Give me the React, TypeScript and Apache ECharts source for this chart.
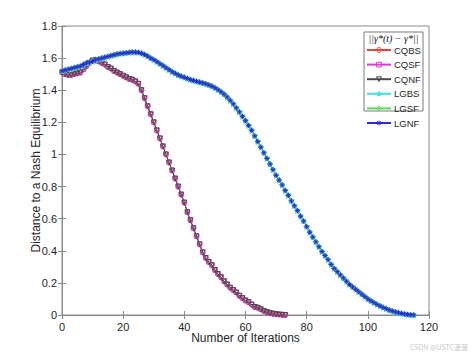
import React, { useEffect, useRef } from "react";
import * as echarts from "echarts";

const seriesNames = ["CQBS", "CQSF", "CQNF", "LGBS", "LGSF", "LGNF"];
const seriesColors = ["#e8413f", "#d63fd6", "#4a4a4a", "#3fe0e0", "#5fd65f", "#2a2ad8"];

// CQ family (iterations 0..73)
const cqValues = [
  1.51, 1.5, 1.495, 1.495, 1.5, 1.505, 1.51, 1.53, 1.55, 1.57,
  1.585, 1.585, 1.58, 1.57, 1.56, 1.545, 1.535, 1.52, 1.51, 1.5,
  1.49, 1.48, 1.47, 1.465, 1.455, 1.44, 1.4, 1.35, 1.3, 1.25,
  1.2, 1.15, 1.1, 1.05, 1.0, 0.95, 0.9, 0.85, 0.8, 0.75,
  0.7, 0.64, 0.59, 0.54, 0.49, 0.44, 0.39, 0.355, 0.33, 0.31,
  0.28, 0.255, 0.235, 0.21, 0.19, 0.17, 0.155, 0.14, 0.12, 0.105,
  0.09, 0.08, 0.065, 0.05, 0.045, 0.035, 0.025, 0.018, 0.012, 0.008,
  0.005, 0.003, 0.001, 0.0,
];

// LG family (iterations 0..115)
const lgValues = [
  1.52, 1.525, 1.53, 1.535, 1.54, 1.545, 1.55, 1.56, 1.57, 1.575,
  1.58, 1.59, 1.595, 1.6, 1.605, 1.61, 1.615, 1.62, 1.625, 1.628,
  1.63, 1.633, 1.635, 1.637, 1.637, 1.635, 1.63, 1.622, 1.612, 1.6,
  1.59, 1.578, 1.565, 1.553, 1.54, 1.528, 1.515, 1.505, 1.495, 1.487,
  1.48, 1.473, 1.466, 1.46, 1.455, 1.45, 1.445, 1.44, 1.433, 1.425,
  1.415, 1.403, 1.39, 1.375, 1.357, 1.337, 1.315, 1.29, 1.265, 1.237,
  1.21, 1.18, 1.15, 1.115, 1.08, 1.045, 1.01, 0.975, 0.94, 0.905,
  0.87, 0.84, 0.81, 0.775, 0.745, 0.71, 0.68, 0.65, 0.615, 0.585,
  0.55, 0.515, 0.485, 0.455, 0.425, 0.395, 0.37, 0.345, 0.315, 0.29,
  0.27, 0.25, 0.23, 0.21, 0.19, 0.175, 0.16, 0.145, 0.13, 0.115,
  0.1, 0.088, 0.077, 0.066, 0.056, 0.047, 0.039, 0.031, 0.025, 0.019,
  0.014, 0.01, 0.006, 0.003, 0.001, 0.0,
];

const xTicks = [0, 20, 40, 60, 80, 100, 120];
const yTicks = [0, 0.2, 0.4, 0.6, 0.8, 1, 1.2, 1.4, 1.6, 1.8];

const STAR = "path://M50,0 L61,35 L98,35 L68,57 L79,91 L50,70 L21,91 L32,57 L2,35 L39,35 Z";
const ASTERISK = "path://M0,5 L10,5 M5,0 L5,10 M1.5,1.5 L8.5,8.5 M8.5,1.5 L1.5,8.5";

const symbols = ["circle", "rect", "triangle", STAR, "diamond", ASTERISK];
const symbolRot = [0, 0, 180, 0, 0, 0];
const symbolSizes = [5, 4, 5, 6, 5, 5];

export default function App() {
  const ref = useRef<HTMLDivElement>(null);
  useEffect(() => {
    if (!ref.current) return;
    const chart = echarts.init(ref.current, undefined, { renderer: "svg" });
    const axisColor = "#8a8a8a";
    const labelColor = "#262626";
    const font = "Liberation Sans";
    const hollow = (c: string) => ({ color: "rgba(0,0,0,0)", borderColor: c, borderWidth: 1 });
    const series = seriesNames.map((name, k) => {
      const vals = k < 3 ? cqValues : lgValues;
      return {
        name,
        type: "line",
        xAxisIndex: 0,
        yAxisIndex: 0,
        data: vals.map((v, i) => [i, v]),
        symbol: symbols[k],
        symbolSize: symbolSizes[k],
        symbolRotate: symbolRot[k],
        showAllSymbol: true,
        lineStyle: { color: seriesColors[k], width: 1 },
        itemStyle: hollow(seriesColors[k]),
        emphasis: { disabled: true },
      };
    });
    chart.setOption({
      animation: false,
      grid: { left: 62, right: 45, top: 26, bottom: 40, show: true, borderColor: axisColor, borderWidth: 1 },
      xAxis: [
        {
          type: "value",
          min: xTicks[0],
          max: xTicks[xTicks.length - 1],
          interval: 20,
          name: "Number of Iterations",
          nameLocation: "middle",
          nameGap: 17,
          nameMoveOverlap: false,
          nameTextStyle: { fontFamily: font, fontSize: 12, color: labelColor, verticalAlign: "top" },
          axisLine: { show: true, lineStyle: { color: axisColor } },
          axisTick: { show: true, inside: true, length: 4, lineStyle: { color: axisColor } },
          axisLabel: { fontFamily: font, fontSize: 11, color: labelColor, margin: 6 },
          splitLine: { show: false },
        },
        {
          type: "value",
          position: "top",
          min: 0,
          max: 120,
          interval: 20,
          axisLine: { show: true, lineStyle: { color: axisColor } },
          axisTick: { show: true, inside: true, length: 4, lineStyle: { color: axisColor } },
          axisLabel: { show: false },
          splitLine: { show: false },
        },
      ],
      yAxis: [
        {
          type: "value",
          min: yTicks[0],
          max: yTicks[yTicks.length - 1],
          interval: 0.2,
          name: "Distance to a Nash Equilibrium",
          nameLocation: "middle",
          nameGap: 20,
          nameMoveOverlap: false,
          nameTextStyle: { fontFamily: font, fontSize: 12, color: labelColor },
          axisLine: { show: true, lineStyle: { color: axisColor } },
          axisTick: { show: true, inside: true, length: 4, lineStyle: { color: axisColor } },
          axisLabel: {
            fontFamily: font,
            fontSize: 11,
            color: labelColor,
            margin: 5,
            formatter: (v: number) => String(Math.round(v * 10) / 10),
          },
          splitLine: { show: false },
        },
        {
          type: "value",
          position: "right",
          min: 0,
          max: 1.8,
          interval: 0.2,
          axisLine: { show: true, lineStyle: { color: axisColor } },
          axisTick: { show: true, inside: true, length: 4, lineStyle: { color: axisColor } },
          axisLabel: { show: false },
          splitLine: { show: false },
        },
      ],
      legend: {
        orient: "vertical",
        left: 366,
        top: 45,
        padding: 0,
        itemWidth: 24,
        itemHeight: 6,
        itemGap: 4.6,
        data: seriesNames.map((n, k) => ({ name: n, itemStyle: hollow(seriesColors[k]) })),
        textStyle: { fontFamily: font, fontSize: 9.5, color: labelColor, padding: [0, 0, 0, -2] },
      },
      graphic: [
        {
          type: "rect",
          shape: { x: 364, y: 32, width: 59, height: 79 },
          style: { fill: "#fff", stroke: "#7a7a7a", lineWidth: 1 },
          z: 0,
          zlevel: 0,
        },
        {
          type: "text",
          x: 393.5,
          y: 38.5,
          style: {
            text: "||γ*(t) − γ*||",
            fontFamily: "Liberation Serif",
            fontStyle: "italic",
            fontSize: 10,
            fill: "#111",
            align: "center",
            verticalAlign: "middle",
          },
        },
        {
          type: "text",
          x: 468,
          y: 347,
          style: {
            text: "CSDN @USTC菠菠",
            fontFamily: "Noto Sans CJK SC",
            fontSize: 7,
            fill: "#c8c8c8",
            align: "right",
            verticalAlign: "middle",
          },
        },
      ],
      series,
    });
    return () => chart.dispose();
  }, []);
  return (
    <div
      ref={ref}
      style={{ position: "fixed", left: 0, top: 0, width: 474, height: 355, background: "#fff" }}
    />
  );
}
